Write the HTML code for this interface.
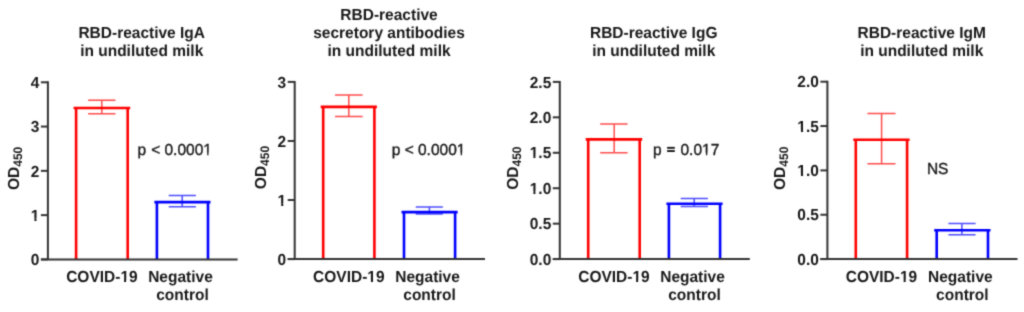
<!DOCTYPE html>
<html><head><meta charset="utf-8"><style>
html,body{margin:0;padding:0;background:#fff;width:1024px;height:312px;overflow:hidden}
svg{display:block}
text{text-rendering:geometricPrecision;font-family:"Liberation Sans",sans-serif;fill:#181818;stroke:#181818;stroke-width:0.0px}
.b{font-weight:bold}
.r{stroke:#181818;stroke-width:0.35px}
</style></head><body>
<svg width="1024" height="312" viewBox="0 0 1024 312">
<defs><filter id="bl" filterUnits="userSpaceOnUse" x="0" y="0" width="1024" height="312" color-interpolation-filters="sRGB"><feConvolveMatrix order="3" kernelMatrix="0.02768 0.11101 0.02768 0.11101 0.44521 0.11101 0.02768 0.11101 0.02768" edgeMode="duplicate"/></filter></defs>
<g filter="url(#bl)">
<rect width="1024" height="312" fill="#fff"/>
<g>
<path d="M40.90 259.40 H47.90" stroke="#333" stroke-width="2.0"/>
<g transform="translate(39.40,265.05) scale(1,1.03)"><text id="t0" class="b" x="0" y="0" font-size="15.5" text-anchor="end">0</text></g>
<path d="M40.90 215.12 H47.90" stroke="#333" stroke-width="2.0"/>
<g transform="translate(39.40,220.78) scale(1,1.03)"><text id="t1" class="b" x="0" y="0" font-size="15.5" text-anchor="end">1</text><rect x="-8.45" y="-2.48" width="3.44" height="3.48" fill="#fff"/><rect x="-2.88" y="-2.48" width="3.24" height="3.48" fill="#fff"/></g>
<path d="M40.90 170.85 H47.90" stroke="#333" stroke-width="2.0"/>
<g transform="translate(39.40,176.50) scale(1,1.03)"><text id="t2" class="b" x="0" y="0" font-size="15.5" text-anchor="end">2</text></g>
<path d="M40.90 126.57 H47.90" stroke="#333" stroke-width="2.0"/>
<g transform="translate(39.40,132.22) scale(1,1.03)"><text id="t3" class="b" x="0" y="0" font-size="15.5" text-anchor="end">3</text></g>
<path d="M40.90 82.30 H47.90" stroke="#333" stroke-width="2.0"/>
<g transform="translate(39.40,87.95) scale(1,1.03)"><text id="t4" class="b" x="0" y="0" font-size="15.5" text-anchor="end">4</text></g>
<path d="M76.10 259.40 V108.00 M127.70 259.40 V108.00 M73.60 108.00 H130.20" stroke="#ff0000" stroke-width="2.6" fill="none"/>
<path d="M101.80 100.20 V113.70 M88.10 100.20 H115.50 M88.10 113.70 H115.50" stroke="#ff0000" stroke-opacity="0.7" stroke-width="1.5" fill="none"/>
<path d="M156.90 259.40 V202.10 M208.00 259.40 V202.10 M154.40 202.10 H210.50" stroke="#0000ff" stroke-width="2.6" fill="none"/>
<path d="M182.20 195.40 V206.80 M168.75 195.40 H195.90 M168.75 206.80 H195.90" stroke="#0000ff" stroke-opacity="0.7" stroke-width="1.5" fill="none"/>
<path d="M47.90 81.30 V259.40 M40.90 259.40 H237.60" stroke="#333" stroke-width="2.0" fill="none"/>
<g transform="translate(137.40,155.00) scale(1,1.03)"><text id="t5" class="r" x="0" y="0" font-size="15.5"><tspan>p</tspan><tspan dx="0.8"> &lt; 0.0001</tspan></text><rect x="66.24" y="-2.06" width="3.52" height="3.06" fill="#fff"/><rect x="71.13" y="-2.06" width="3.40" height="3.06" fill="#fff"/></g>
<g transform="translate(18.80,168.40) rotate(-90) scale(1,1.03)"><text class="b" x="0" y="0" font-size="15.5" text-anchor="middle">OD<tspan font-size="12" dy="3">450</tspan></text></g>
<g transform="translate(141.70,37.60) scale(1,1.03)"><text id="t6" class="b" x="0" y="0" font-size="15.5" text-anchor="middle">RBD-reactive IgA</text></g>
<g transform="translate(141.70,56.00) scale(1,1.03)"><text id="t7" class="b" x="0" y="0" font-size="15.5" text-anchor="middle">in undiluted milk</text></g>
<g transform="translate(101.90,282.40) scale(1,1.03)"><text id="t8" class="b" x="0" y="0" font-size="15.5" text-anchor="middle">COVID-19</text><rect x="18.68" y="-2.48" width="3.44" height="3.48" fill="#fff"/><rect x="24.24" y="-2.48" width="3.24" height="3.48" fill="#fff"/></g>
<g transform="translate(180.45,282.40) scale(1,1.03)"><text id="t9" class="b" x="0" y="0" font-size="15.5" text-anchor="middle">Negative</text></g>
<g transform="translate(182.45,299.60) scale(1,1.03)"><text id="t10" class="b" x="0" y="0" font-size="15.5" text-anchor="middle">control</text></g>
</g>
<g>
<path d="M287.70 259.10 H294.70" stroke="#333" stroke-width="2.0"/>
<g transform="translate(286.20,264.75) scale(1,1.03)"><text id="t11" class="b" x="0" y="0" font-size="15.5" text-anchor="end">0</text></g>
<path d="M287.70 200.03 H294.70" stroke="#333" stroke-width="2.0"/>
<g transform="translate(286.20,205.68) scale(1,1.03)"><text id="t12" class="b" x="0" y="0" font-size="15.5" text-anchor="end">1</text><rect x="-8.45" y="-2.48" width="3.44" height="3.48" fill="#fff"/><rect x="-2.88" y="-2.48" width="3.24" height="3.48" fill="#fff"/></g>
<path d="M287.70 140.97 H294.70" stroke="#333" stroke-width="2.0"/>
<g transform="translate(286.20,146.62) scale(1,1.03)"><text id="t13" class="b" x="0" y="0" font-size="15.5" text-anchor="end">2</text></g>
<path d="M287.70 81.90 H294.70" stroke="#333" stroke-width="2.0"/>
<g transform="translate(286.20,87.55) scale(1,1.03)"><text id="t14" class="b" x="0" y="0" font-size="15.5" text-anchor="end">3</text></g>
<path d="M323.20 259.10 V106.90 M374.40 259.10 V106.90 M320.70 106.90 H376.90" stroke="#ff0000" stroke-width="2.6" fill="none"/>
<path d="M348.80 95.00 V116.40 M335.00 95.00 H362.60 M335.00 116.40 H362.60" stroke="#ff0000" stroke-opacity="0.7" stroke-width="1.5" fill="none"/>
<path d="M404.00 259.10 V212.10 M455.10 259.10 V212.10 M401.50 212.10 H457.60" stroke="#0000ff" stroke-width="2.6" fill="none"/>
<path d="M429.40 207.10 V213.90 M415.75 207.10 H442.90 M415.75 213.90 H442.90" stroke="#0000ff" stroke-opacity="0.7" stroke-width="1.5" fill="none"/>
<path d="M294.70 80.90 V259.10 M287.70 259.10 H485.00" stroke="#333" stroke-width="2.0" fill="none"/>
<g transform="translate(391.70,155.00) scale(1,1.03)"><text id="t15" class="r" x="0" y="0" font-size="15.5"><tspan>p &lt; 0.0001</tspan></text><rect x="65.44" y="-2.06" width="3.52" height="3.06" fill="#fff"/><rect x="70.33" y="-2.06" width="3.40" height="3.06" fill="#fff"/></g>
<g transform="translate(266.00,167.50) rotate(-90) scale(1,1.03)"><text class="b" x="0" y="0" font-size="15.5" text-anchor="middle">OD<tspan font-size="12" dy="3">450</tspan></text></g>
<g transform="translate(389.00,19.80) scale(1,1.03)"><text id="t16" class="b" x="0" y="0" font-size="15.5" text-anchor="middle">RBD-reactive</text></g>
<g transform="translate(389.00,37.50) scale(1,1.03)"><text id="t17" class="b" x="0" y="0" font-size="15.5" text-anchor="middle">secretory antibodies</text></g>
<g transform="translate(389.00,56.00) scale(1,1.03)"><text id="t18" class="b" x="0" y="0" font-size="15.5" text-anchor="middle">in undiluted milk</text></g>
<g transform="translate(348.80,282.40) scale(1,1.03)"><text id="t19" class="b" x="0" y="0" font-size="15.5" text-anchor="middle">COVID-19</text><rect x="18.68" y="-2.48" width="3.44" height="3.48" fill="#fff"/><rect x="24.24" y="-2.48" width="3.24" height="3.48" fill="#fff"/></g>
<g transform="translate(427.55,282.40) scale(1,1.03)"><text id="t20" class="b" x="0" y="0" font-size="15.5" text-anchor="middle">Negative</text></g>
<g transform="translate(429.55,299.60) scale(1,1.03)"><text id="t21" class="b" x="0" y="0" font-size="15.5" text-anchor="middle">control</text></g>
</g>
<g>
<path d="M552.80 259.10 H559.80" stroke="#333" stroke-width="2.0"/>
<g transform="translate(551.30,264.75) scale(1,1.03)"><text id="t22" class="b" x="0" y="0" font-size="15.5" text-anchor="end">0.0</text></g>
<path d="M552.80 223.66 H559.80" stroke="#333" stroke-width="2.0"/>
<g transform="translate(551.30,229.31) scale(1,1.03)"><text id="t23" class="b" x="0" y="0" font-size="15.5" text-anchor="end">0.5</text></g>
<path d="M552.80 188.22 H559.80" stroke="#333" stroke-width="2.0"/>
<g transform="translate(551.30,193.87) scale(1,1.03)"><text id="t24" class="b" x="0" y="0" font-size="15.5" text-anchor="end">1.0</text><rect x="-21.39" y="-2.48" width="3.44" height="3.48" fill="#fff"/><rect x="-15.82" y="-2.48" width="3.24" height="3.48" fill="#fff"/></g>
<path d="M552.80 152.78 H559.80" stroke="#333" stroke-width="2.0"/>
<g transform="translate(551.30,158.43) scale(1,1.03)"><text id="t25" class="b" x="0" y="0" font-size="15.5" text-anchor="end">1.5</text><rect x="-21.39" y="-2.48" width="3.44" height="3.48" fill="#fff"/><rect x="-15.82" y="-2.48" width="3.24" height="3.48" fill="#fff"/></g>
<path d="M552.80 117.34 H559.80" stroke="#333" stroke-width="2.0"/>
<g transform="translate(551.30,122.99) scale(1,1.03)"><text id="t26" class="b" x="0" y="0" font-size="15.5" text-anchor="end">2.0</text></g>
<path d="M552.80 81.90 H559.80" stroke="#333" stroke-width="2.0"/>
<g transform="translate(551.30,87.55) scale(1,1.03)"><text id="t27" class="b" x="0" y="0" font-size="15.5" text-anchor="end">2.5</text></g>
<path d="M588.20 259.10 V139.40 M639.70 259.10 V139.40 M585.70 139.40 H642.20" stroke="#ff0000" stroke-width="2.6" fill="none"/>
<path d="M614.20 123.90 V152.80 M600.20 123.90 H627.60 M600.20 152.80 H627.60" stroke="#ff0000" stroke-opacity="0.7" stroke-width="1.5" fill="none"/>
<path d="M668.90 259.10 V203.75 M720.10 259.10 V203.75 M666.40 203.75 H722.60" stroke="#0000ff" stroke-width="2.6" fill="none"/>
<path d="M694.20 198.60 V206.60 M680.75 198.60 H707.90 M680.75 206.60 H707.90" stroke="#0000ff" stroke-opacity="0.7" stroke-width="1.5" fill="none"/>
<path d="M559.80 80.90 V259.10 M552.80 259.10 H749.80" stroke="#333" stroke-width="2.0" fill="none"/>
<g transform="translate(653.00,155.00) scale(1,1.03)"><text id="t28" class="r" x="0" y="0" font-size="15.5"><tspan>p</tspan><tspan fill="none" stroke="none"> = </tspan><tspan dx="1.2">0.017</tspan></text><rect x="49.42" y="-2.06" width="3.52" height="3.06" fill="#fff"/><rect x="54.31" y="-2.06" width="3.40" height="3.06" fill="#fff"/></g>
<rect x="667.1" y="146.9" width="7.7" height="1.9" fill="#181818"/><rect x="667.1" y="150.1" width="7.7" height="1.9" fill="#181818"/>
<g transform="translate(517.70,168.10) rotate(-90) scale(1,1.03)"><text class="b" x="0" y="0" font-size="15.5" text-anchor="middle">OD<tspan font-size="12" dy="3">450</tspan></text></g>
<g transform="translate(653.70,37.70) scale(1,1.03)"><text id="t29" class="b" x="0" y="0" font-size="15.5" text-anchor="middle">RBD-reactive IgG</text></g>
<g transform="translate(653.70,56.40) scale(1,1.03)"><text id="t30" class="b" x="0" y="0" font-size="15.5" text-anchor="middle">in undiluted milk</text></g>
<g transform="translate(613.95,282.40) scale(1,1.03)"><text id="t31" class="b" x="0" y="0" font-size="15.5" text-anchor="middle">COVID-19</text><rect x="18.68" y="-2.48" width="3.44" height="3.48" fill="#fff"/><rect x="24.24" y="-2.48" width="3.24" height="3.48" fill="#fff"/></g>
<g transform="translate(692.50,282.40) scale(1,1.03)"><text id="t32" class="b" x="0" y="0" font-size="15.5" text-anchor="middle">Negative</text></g>
<g transform="translate(694.50,299.60) scale(1,1.03)"><text id="t33" class="b" x="0" y="0" font-size="15.5" text-anchor="middle">control</text></g>
</g>
<g>
<path d="M820.40 259.10 H827.40" stroke="#333" stroke-width="2.0"/>
<g transform="translate(818.90,264.75) scale(1,1.03)"><text id="t34" class="b" x="0" y="0" font-size="15.5" text-anchor="end">0.0</text></g>
<path d="M820.40 214.75 H827.40" stroke="#333" stroke-width="2.0"/>
<g transform="translate(818.90,220.40) scale(1,1.03)"><text id="t35" class="b" x="0" y="0" font-size="15.5" text-anchor="end">0.5</text></g>
<path d="M820.40 170.40 H827.40" stroke="#333" stroke-width="2.0"/>
<g transform="translate(818.90,176.05) scale(1,1.03)"><text id="t36" class="b" x="0" y="0" font-size="15.5" text-anchor="end">1.0</text><rect x="-21.39" y="-2.48" width="3.44" height="3.48" fill="#fff"/><rect x="-15.82" y="-2.48" width="3.24" height="3.48" fill="#fff"/></g>
<path d="M820.40 126.05 H827.40" stroke="#333" stroke-width="2.0"/>
<g transform="translate(818.90,131.70) scale(1,1.03)"><text id="t37" class="b" x="0" y="0" font-size="15.5" text-anchor="end">1.5</text><rect x="-21.39" y="-2.48" width="3.44" height="3.48" fill="#fff"/><rect x="-15.82" y="-2.48" width="3.24" height="3.48" fill="#fff"/></g>
<path d="M820.40 81.70 H827.40" stroke="#333" stroke-width="2.0"/>
<g transform="translate(818.90,87.35) scale(1,1.03)"><text id="t38" class="b" x="0" y="0" font-size="15.5" text-anchor="end">2.0</text></g>
<path d="M855.80 259.10 V139.75 M907.10 259.10 V139.75 M853.30 139.75 H909.60" stroke="#ff0000" stroke-width="2.6" fill="none"/>
<path d="M881.60 113.50 V163.80 M867.40 113.50 H895.50 M867.40 163.80 H895.50" stroke="#ff0000" stroke-opacity="0.7" stroke-width="1.5" fill="none"/>
<path d="M936.70 259.10 V230.30 M988.00 259.10 V230.30 M934.20 230.30 H990.50" stroke="#0000ff" stroke-width="2.6" fill="none"/>
<path d="M961.90 223.40 V234.70 M948.40 223.40 H975.60 M948.40 234.70 H975.60" stroke="#0000ff" stroke-opacity="0.7" stroke-width="1.5" fill="none"/>
<path d="M827.40 80.70 V259.10 M820.40 259.10 H1017.50" stroke="#333" stroke-width="2.0" fill="none"/>
<g transform="translate(926.90,173.60) scale(1,1.03)"><text id="t39" class="r" x="0" y="0" font-size="15.5"><tspan>NS</tspan></text></g>
<g transform="translate(785.30,168.30) rotate(-90) scale(1,1.03)"><text class="b" x="0" y="0" font-size="15.5" text-anchor="middle">OD<tspan font-size="12" dy="3">450</tspan></text></g>
<g transform="translate(921.70,37.70) scale(1,1.03)"><text id="t40" class="b" x="0" y="0" font-size="15.5" text-anchor="middle">RBD-reactive IgM</text></g>
<g transform="translate(921.70,56.40) scale(1,1.03)"><text id="t41" class="b" x="0" y="0" font-size="15.5" text-anchor="middle">in undiluted milk</text></g>
<g transform="translate(881.45,282.40) scale(1,1.03)"><text id="t42" class="b" x="0" y="0" font-size="15.5" text-anchor="middle">COVID-19</text><rect x="18.68" y="-2.48" width="3.44" height="3.48" fill="#fff"/><rect x="24.24" y="-2.48" width="3.24" height="3.48" fill="#fff"/></g>
<g transform="translate(960.35,282.40) scale(1,1.03)"><text id="t43" class="b" x="0" y="0" font-size="15.5" text-anchor="middle">Negative</text></g>
<g transform="translate(962.35,299.60) scale(1,1.03)"><text id="t44" class="b" x="0" y="0" font-size="15.5" text-anchor="middle">control</text></g>
</g>
</g>
</svg>
</body></html>
